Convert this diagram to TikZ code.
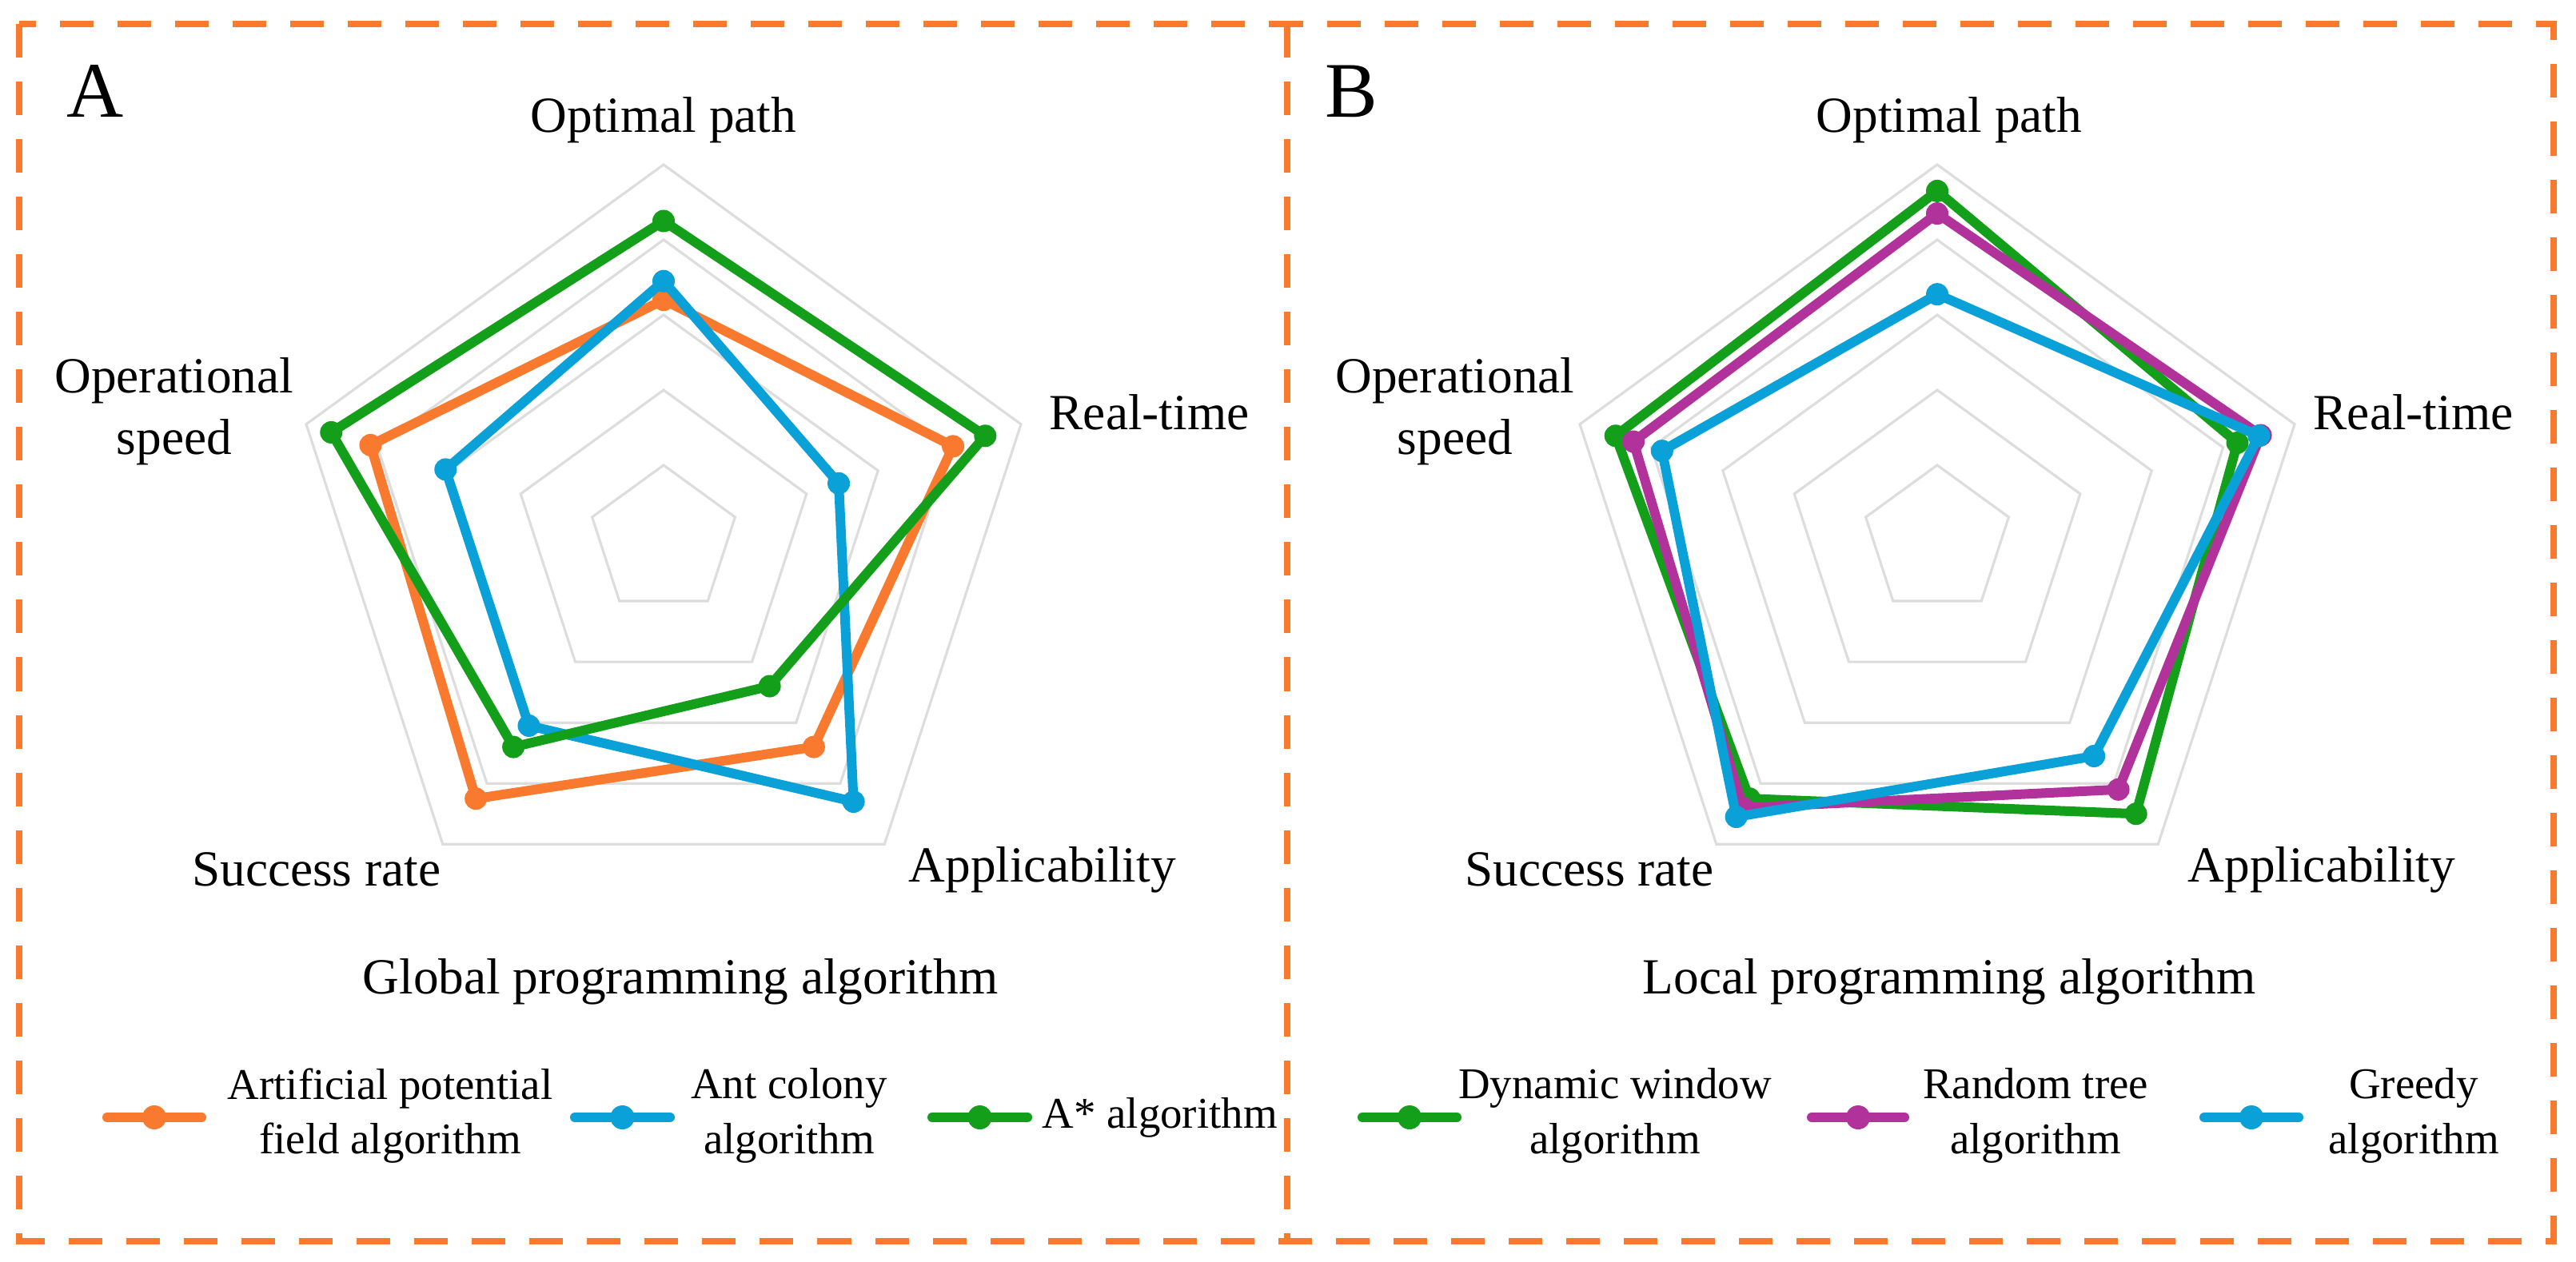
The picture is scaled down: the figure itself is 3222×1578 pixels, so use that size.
\documentclass[tikz,border=0pt]{standalone}
\usepackage{fontspec}
\setmainfont{Liberation Serif}
\definecolor{cor}{HTML}{F97A2E}
\definecolor{cbl}{HTML}{0AA0D8}
\definecolor{cgr}{HTML}{149F1A}
\definecolor{cmg}{HTML}{B2329C}
\definecolor{cgrid}{HTML}{DDDDDD}
\newcommand\radargrid[2]{%
  \foreach \k in {0.2,0.4,0.6,0.8,1.0}{
    \draw[gridline] ({#1+\k*470*cos(90)},{#2-\k*470*sin(90)})
      \foreach \a in {18,-54,-126,162}{ -- ({#1+\k*470*cos(\a)},{#2-\k*470*sin(\a)}) } -- cycle;
  }}
\newcommand\radarseries[4]{%
  \foreach \v [count=\i] in {#4}{
    \coordinate (s\i) at ({#1+\v*470*cos(90-72*(\i-1))},{#2-\v*470*sin(90-72*(\i-1))});
  }
  \draw[serline,#3] (s1)--(s2)--(s3)--(s4)--(s5)--cycle;
  \foreach \i in {1,...,5}{ \fill[#3] (s\i) circle (0.14cm); }
}
\newcommand\legitem[4]{% x1 x2 y color
  \draw[legline,#4] (#1,#3) -- (#2,#3);
  \fill[#4] ({(#1+#2)/2},#3) circle (0.15cm);
}
\begin{document}
\begin{tikzpicture}[x=0.01cm,y=-0.01cm,
  gridline/.style={draw=cgrid,line width=0.9pt,line join=miter},
  serline/.style={line width=0.12cm,line join=round},
  legline/.style={line width=0.12cm,line cap=round},
  border/.style={draw=cor,line width=0.08cm,dash pattern=on 0.42cm off 0.30cm},
  axlab/.style={font=\fontsize{18}{22}\selectfont,align=center,inner sep=0pt},
  leglab/.style={font=\fontsize{15.6}{19.5}\selectfont,align=center,inner sep=0pt},
  panlab/.style={font=\fontsize{28}{30}\selectfont,inner sep=0pt}]
\useasboundingbox (0,0) rectangle (3222,1578);
\fill[white] (0,0) rectangle (3222,1578);
\draw[border] (24,30) rectangle (3194,1553);
\draw[border] (1610,30) -- (1610,1553);

% Panel A
\node[panlab] (labA) at (119,114) {A};
\radargrid{830}{676}
\radarseries{830}{676}{cor}{0.64,0.81,0.68,0.85,0.82}
\radarseries{830}{676}{cbl}{0.69,0.49,0.86,0.61,0.61}
\radarseries{830}{676}{cgr}{0.85,0.90,0.48,0.68,0.93}
\node[axlab] (a1) at (830,150) {Optimal path};
\node[axlab,anchor=west] (a2) at (1312,516) {Real-time};
\node[axlab,anchor=west] (a3) at (1136,1088) {Applicability};
\node[axlab,anchor=east] (a4) at (552,1088) {Success rate};
\node[axlab,anchor=east] (a5) at (368,515) {Operational\\speed};
\node[axlab] (ta) at (851,1228) {Global programming algorithm};
\legitem{134}{252}{1398}{cor}
\node[leglab] (la1) at (488,1396) {Artificial potential\\field algorithm};
\legitem{719}{838}{1398}{cbl}
\node[leglab] (la2) at (987,1396) {Ant colony\\algorithm};
\legitem{1166}{1285}{1398}{cgr}
\node[leglab,anchor=west] (la3) at (1303,1398) {A* algorithm};

% Panel B
\node[panlab] (labB) at (1690,114) {B};
\radargrid{2423}{676}
\radarseries{2423}{676}{cgr}{0.93,0.84,0.90,0.85,0.90}
\radarseries{2423}{676}{cmg}{0.87,0.905,0.82,0.88,0.85}
\radarseries{2423}{676}{cbl}{0.655,0.90,0.71,0.91,0.77}
\node[axlab] (b1) at (2438,150) {Optimal path};
\node[axlab,anchor=west] (b2) at (2893,516) {Real-time};
\node[axlab,anchor=west] (b3) at (2736,1088) {Applicability};
\node[axlab,anchor=east] (b4) at (2144,1088) {Success rate};
\node[axlab,anchor=east] (b5) at (1970,515) {Operational\\speed};
\node[axlab] (tb) at (2438,1228) {Local programming algorithm};
\legitem{1704}{1822}{1398}{cgr}
\node[leglab] (lb1) at (2020,1396) {Dynamic window\\algorithm};
\legitem{2266}{2382}{1398}{cmg}
\node[leglab] (lb2) at (2546,1396) {Random tree\\algorithm};
\legitem{2757}{2875}{1398}{cbl}
\node[leglab] (lb3) at (3019,1396) {Greedy\\algorithm};
\end{tikzpicture}
\end{document}
